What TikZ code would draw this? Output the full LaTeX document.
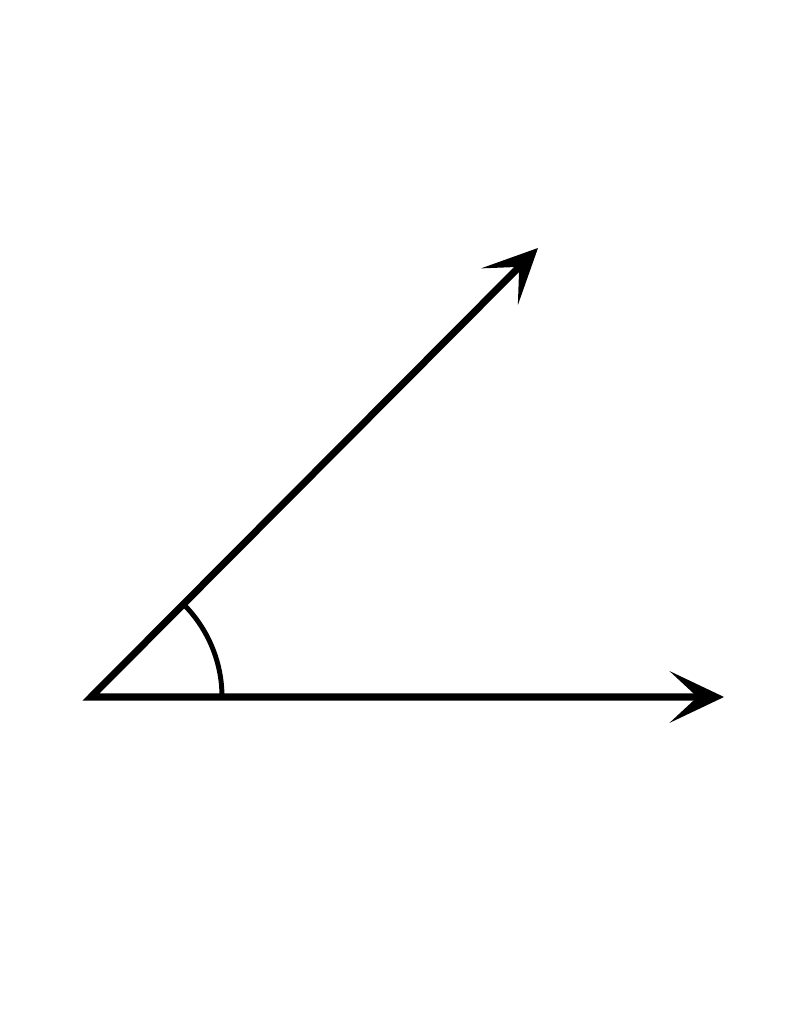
\documentclass[tikz,border=0pt]{standalone}
\usetikzlibrary{arrows.meta}
\begin{document}
\begin{tikzpicture}[x=0.75pt,y=0.75pt,
  tip/.tip={Stealth[length=41pt,width=39pt,inset=21pt,line width=0pt]},
  rays/.style={line width=5.3pt,miter limit=10,tip-tip},
  anglearc/.style={line width=3.7pt}]
\useasboundingbox (0,0) rectangle (791,1024);
\fill[white] (0,0) rectangle (791,1024);
\coordinate (V) at (91,327);
\coordinate (H) at (724,327);
\coordinate (U) at (538,776);
\draw[rays] (U) -- (V) -- (H);
\draw[anglearc] ([xshift=131*0.75pt]V) arc[start angle=0,end angle=45,radius=131];
\end{tikzpicture}
\end{document}
